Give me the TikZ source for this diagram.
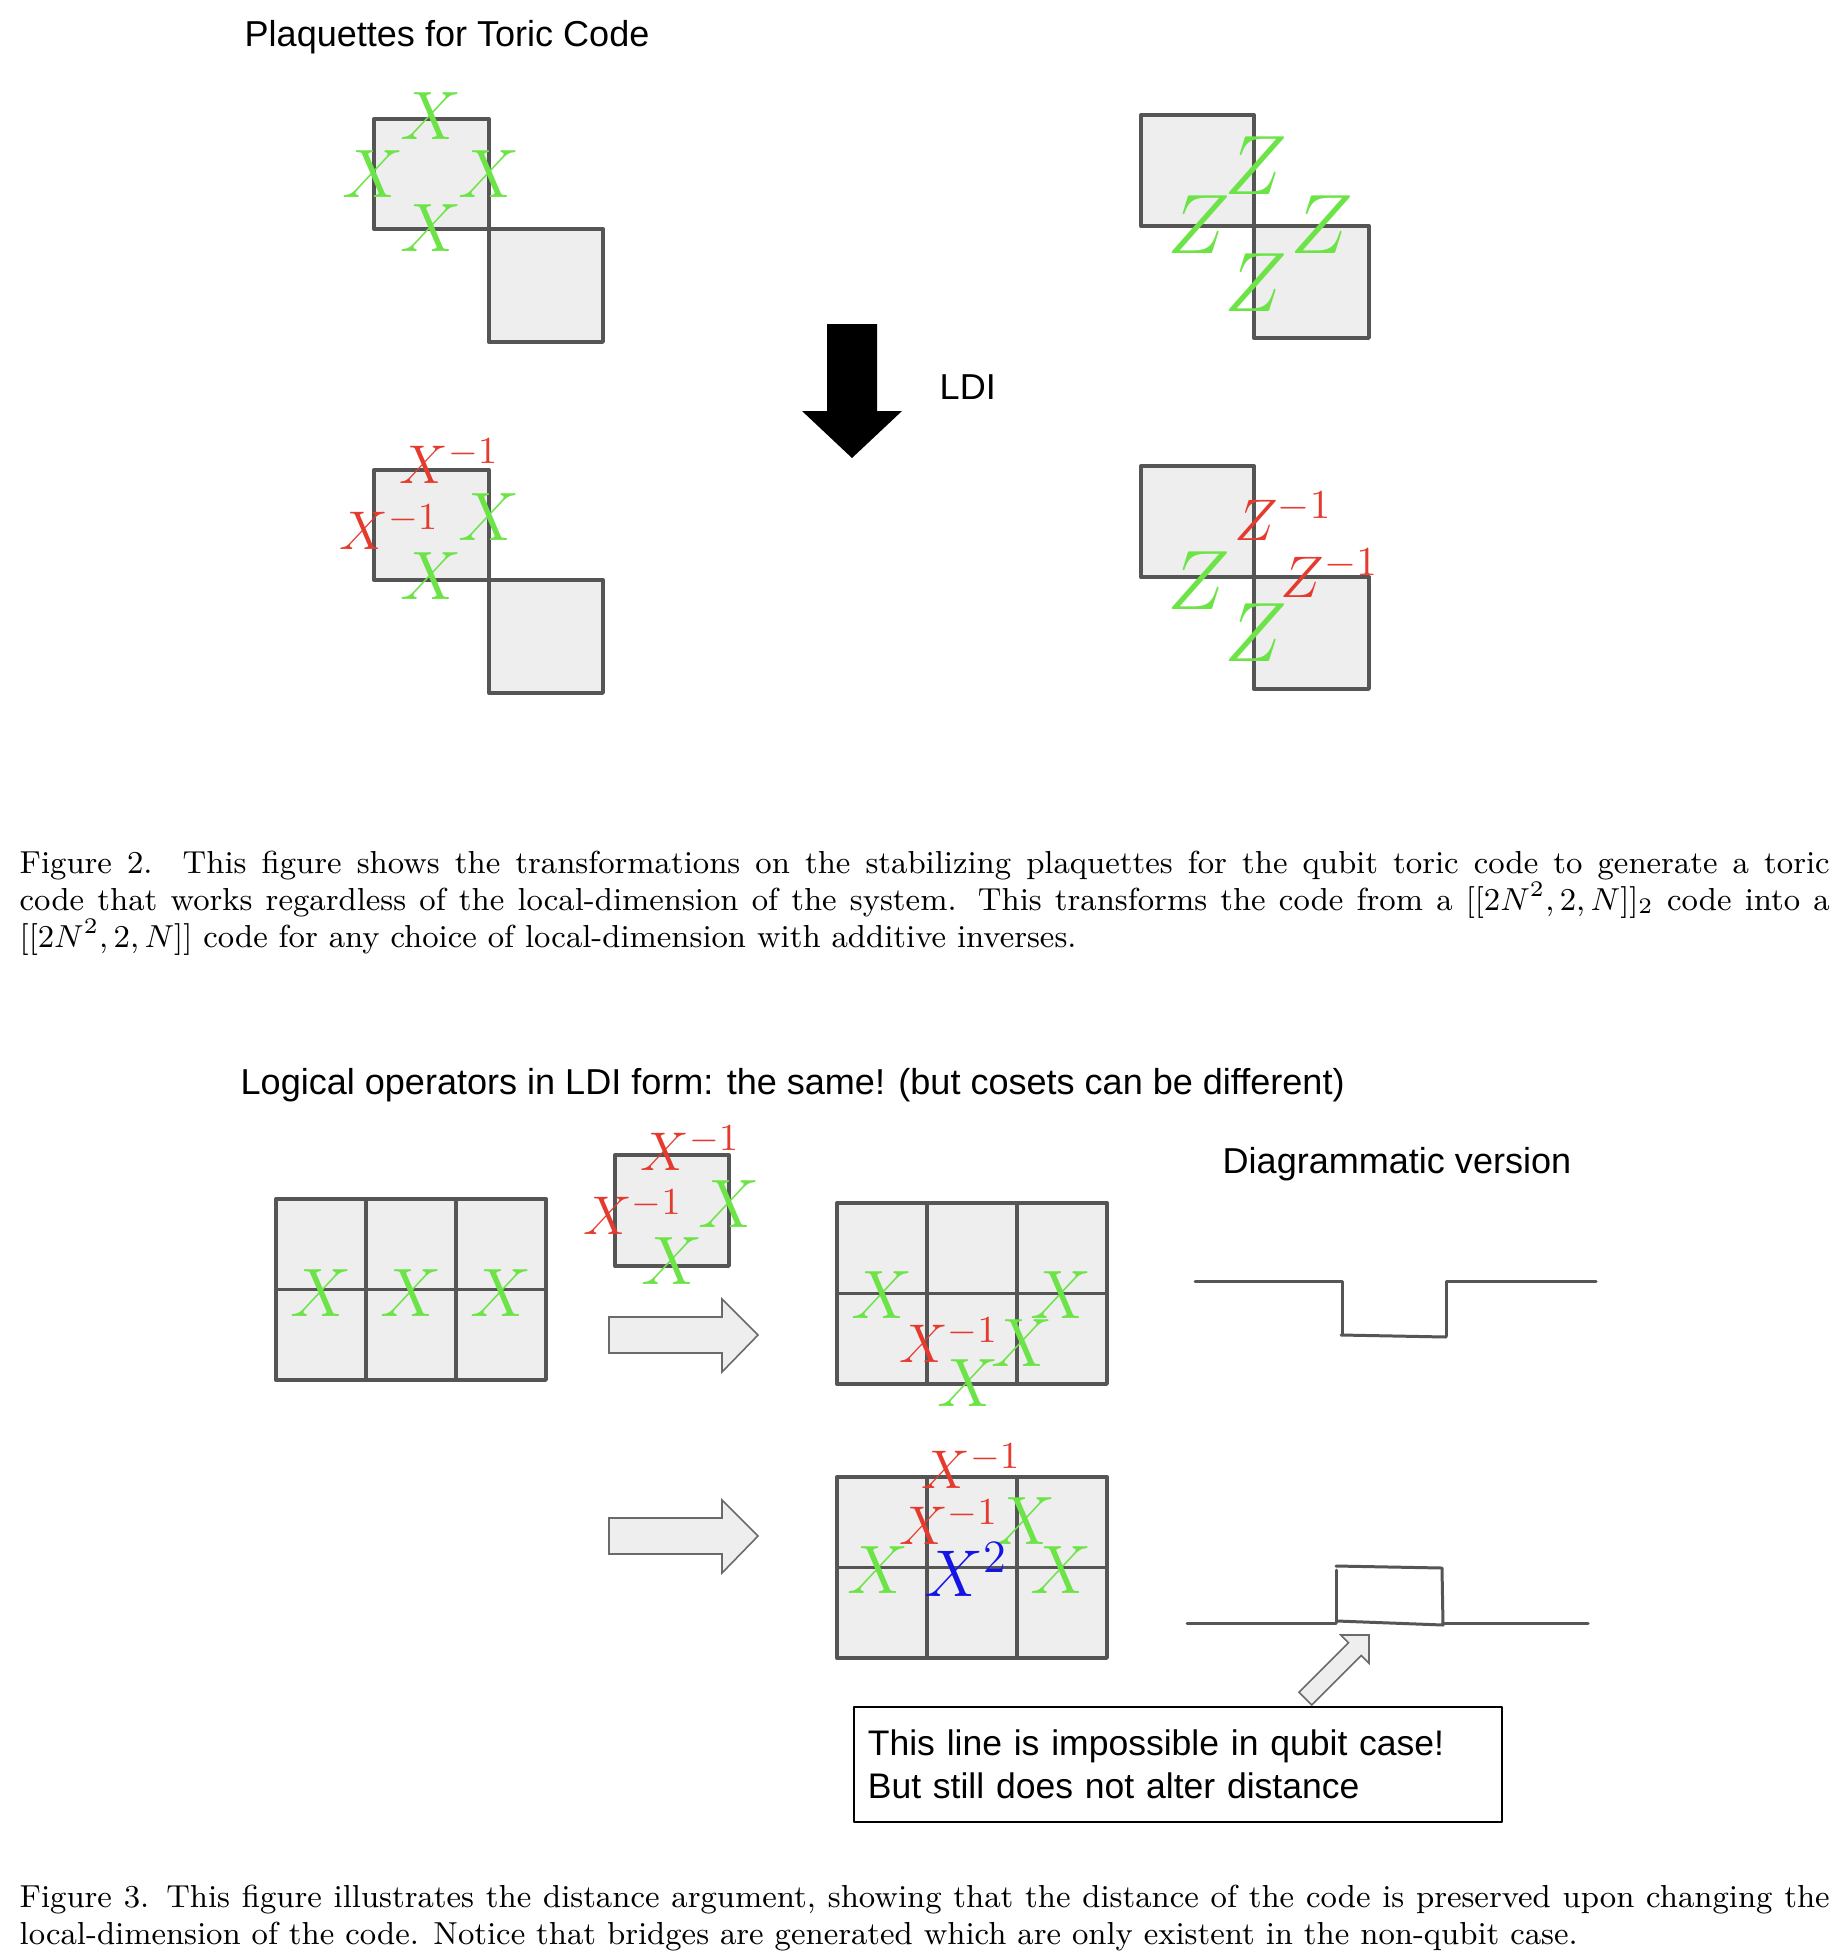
\RequirePackage{fix-cm}
\documentclass[tikz,border=0pt]{standalone}
\usepackage{amsmath,mathtools}
\usepackage{fontspec}
\setsansfont{Liberation Sans}
\usepackage{tikz}
\definecolor{tcGreen}{HTML}{6CE347}
\definecolor{tcRed}{HTML}{E53B2F}
\definecolor{tcBlue}{HTML}{1414E6}
\definecolor{tcFill}{HTML}{EEEEEE}
\definecolor{tcEdge}{HTML}{555555}
\definecolor{tcArrowEdge}{HTML}{6A6A6A}
\newcommand{\ldiop}[2]{#1^{\smash{\mathrlap{#2}}}}
\newcommand{\tccapfont}{\fontsize{9.05}{10.53}\selectfont
  \lineskiplimit=-20pt\relax\tolerance=9999\relax}
\tikzset{
  tc diagram/.style={line cap=round, line join=round},
  tc plaq/.style={draw=tcEdge, fill=tcFill, line width=0.95pt},
  tc grid/.style={draw=tcEdge, line width=0.95pt},
  tc path/.style={draw=tcEdge, line width=0.85pt},
  tc block/.style={draw=tcArrowEdge, fill=tcFill, line width=0.45pt, line join=miter},
  tc op/.style={inner sep=0pt, anchor=center},
  tc gx/.style={tc op, text=tcGreen, font=\fontsize{19.5}{20}\selectfont},
  tc rx/.style={tc op, text=tcRed, font=\fontsize{15.5}{16}\selectfont},
  tc gz/.style={tc op, text=tcGreen, font=\fontsize{24}{24}\selectfont},
  tc rz/.style={tc op, text=tcRed, font=\fontsize{16.7}{17}\selectfont},
  tc bx/.style={tc op, text=tcBlue, font=\fontsize{18.8}{19}\selectfont},
  tc label/.style={font=\sffamily\fontsize{10.25}{12.2}\selectfont, inner sep=0pt, anchor=base west},
  tc caption/.style={font=\tccapfont, text width=18.09cm, align=justify,
    inner sep=0pt, anchor=base west},
  tc note/.style={draw=black, fill=white, line width=0.45pt, minimum width=6.48cm,
    minimum height=1.15cm, text width=6.2cm, inner xsep=0.14cm, align=left,
    font=\sffamily\fontsize{10.1}{12.2}\selectfont}
}
\begin{document}
\begin{tikzpicture}[tc diagram,x=0.01cm,y=-0.01cm]
\useasboundingbox (0,0) rectangle (1848,1960);
\fill[white] (0,0) rectangle (1848,1960);
% figure 2: plaquettes before and after LDI
\node[tc label] (plaqtitle) at (244,46) {Plaquettes for Toric Code};
\foreach \dy in {0,351}{
  \begin{scope}[shift={(0,\dy)}]
  \draw[tc plaq] (374,119) rectangle (489,229);
  \draw[tc plaq] (489,229) rectangle (603,342);
  \draw[tc plaq] (1141,115) rectangle (1254,226);
  \draw[tc plaq] (1254,226) rectangle (1369,338);
  \end{scope}
}
\node[tc gx] (xt) at (431.5,116) {$X$};
\node[tc gx] (xl) at (373.5,174) {$X$};
\node[tc gx] (xr) at (489,174) {$X$};
\node[tc gx] (xb) at (431.5,228) {$X$};
\node[tc rx] (xti) at (425,465) {$\ldiop{X}{-1}$};
\node[tc rx] (xli) at (365,530.5) {$\ldiop{X}{-1}$};
\node[tc gx] (xri) at (489,517) {$X$};
\node[tc gx] (xbi) at (431.5,576) {$X$};
\node[tc gz] (zt) at (1256,166) {$Z$};
\node[tc gz] (zl) at (1198.5,225) {$Z$};
\node[tc gz] (zr) at (1321.5,225) {$Z$};
\node[tc gz] (zb) at (1256,282.5) {$Z$};
\node[tc rz] (zti) at (1257,520) {$\ldiop{Z}{-1}$};
\node[tc rz] (zri) at (1303.5,577) {$\ldiop{Z}{-1}$};
\node[tc gz] (zli) at (1198.5,581) {$Z$};
\node[tc gz] (zbi) at (1256,632.5) {$Z$};
\fill[black] (827,324) -- (877,324) -- (877,411) -- (902,411) -- (852,458)
  -- (802,411) -- (827,411) -- cycle;
\node[tc label] (ldi) at (939,399) {LDI};
\node[tc caption] (cap2) at (19,873) {Figure 2.\ \ This figure shows the
  transformations on the stabilizing plaquettes for the qubit toric code to
  generate a toric\linebreak code that works regardless of the local-dimension
  of the system. This transforms the code from a $[[2N^2,2,N]]_2$ code into
  a\linebreak $[[2N^2,2,N]]$ code for any choice of local-dimension with additive
  inverses.};
% figure 3: logical operators
\node[tc label] (logtitle) at (240,1094) {Logical operators in LDI form: the same! (but cosets can be different)};
\node[tc label] (diagtitle) at (1222,1173) {Diagrammatic version};
\foreach \gx/\gy in {276/1199,837/1203,837/1477}{
  \begin{scope}[shift={(\gx,\gy)}]
  \draw[tc plaq] (0,0) rectangle (270,181);
  \draw[tc grid] (90,0) -- (90,181) (180,0) -- (180,181) (0,90.5) -- (270,90.5);
  \end{scope}
}
\draw[tc plaq] (615,1155) rectangle (729,1266);
\foreach \x/\n in {321.5/1,411.5/2,501/3} \node[tc gx] (xg\n) at (\x,1293) {$X$};
\node[tc rx] (pt) at (666,1152) {$\ldiop{X}{-1}$};
\node[tc rx] (pl) at (608.5,1216) {$\ldiop{X}{-1}$};
\node[tc gx] (pr) at (729.5,1204) {$X$};
\node[tc gx] (pb) at (672,1261) {$X$};
\foreach \dy in {0,201}{
  \begin{scope}[shift={(0,\dy)}]
  \draw[tc block] (609,1317) -- (722,1317) -- (722,1299) -- (758,1335) -- (722,1372)
    -- (722,1353) -- (609,1353) -- cycle;
  \end{scope}
}
\node[tc gx] (ua) at (882.5,1295.5) {$X$};
\node[tc gx] (ub) at (1061.5,1295.5) {$X$};
\node[tc rx] (uc) at (924.5,1344) {$\ldiop{X}{-1}$};
\node[tc gx] (ud) at (1022.5,1343.5) {$X$};
\node[tc gx] (ue) at (968.5,1383.5) {$X$};
\node[tc rx] (va) at (947,1470) {$\ldiop{X}{-1}$};
\node[tc rx] (vb) at (924.5,1526) {$\ldiop{X}{-1}$};
\node[tc gx] (vc) at (1025,1521.5) {$X$};
\node[tc gx] (vd) at (878.5,1570) {$X$};
\node[tc bx] (ve) at (954.5,1574) {$\ldiop{X}{2}$};
\node[tc gx] (vf) at (1061.5,1570) {$X$};
% diagrammatic lines
\draw[tc path] (1195,1281) -- (1342,1281) -- (1342,1334);
\draw[tc path] (1341,1335) -- (1446,1337);
\draw[tc path] (1446,1336) -- (1446,1281) -- (1596,1281);
\draw[tc path] (1187,1623) -- (1336,1623);
\draw[tc path] (1336,1622) -- (1336,1570);
\draw[tc path] (1336,1566) -- (1442,1568) -- (1443,1625);
\draw[tc path] (1337,1621) -- (1443,1625);
\draw[tc path] (1443,1623) -- (1588,1623);
\node[tc note] (note) at (1178,1764.5) {This line is impossible in qubit case!\\But still does not alter distance};
\coordinate (bridgetip) at (1369,1635);
\begin{scope}[shift={(bridgetip)},rotate=45]
\draw[tc block] (-90,-9) -- (-20,-9) -- (-20,-20) -- (0,0) -- (-20,20) -- (-20,9)
  -- (-90,9) -- cycle;
\end{scope}
\node[tc caption] (cap3) at (19,1907) {Figure 3. This figure illustrates the
  distance argument, showing that the distance of the code is preserved upon
  changing the\linebreak local-dimension of the code. Notice that bridges are
  generated which are only existent in the non-qubit case.};
\end{tikzpicture}
\end{document}
